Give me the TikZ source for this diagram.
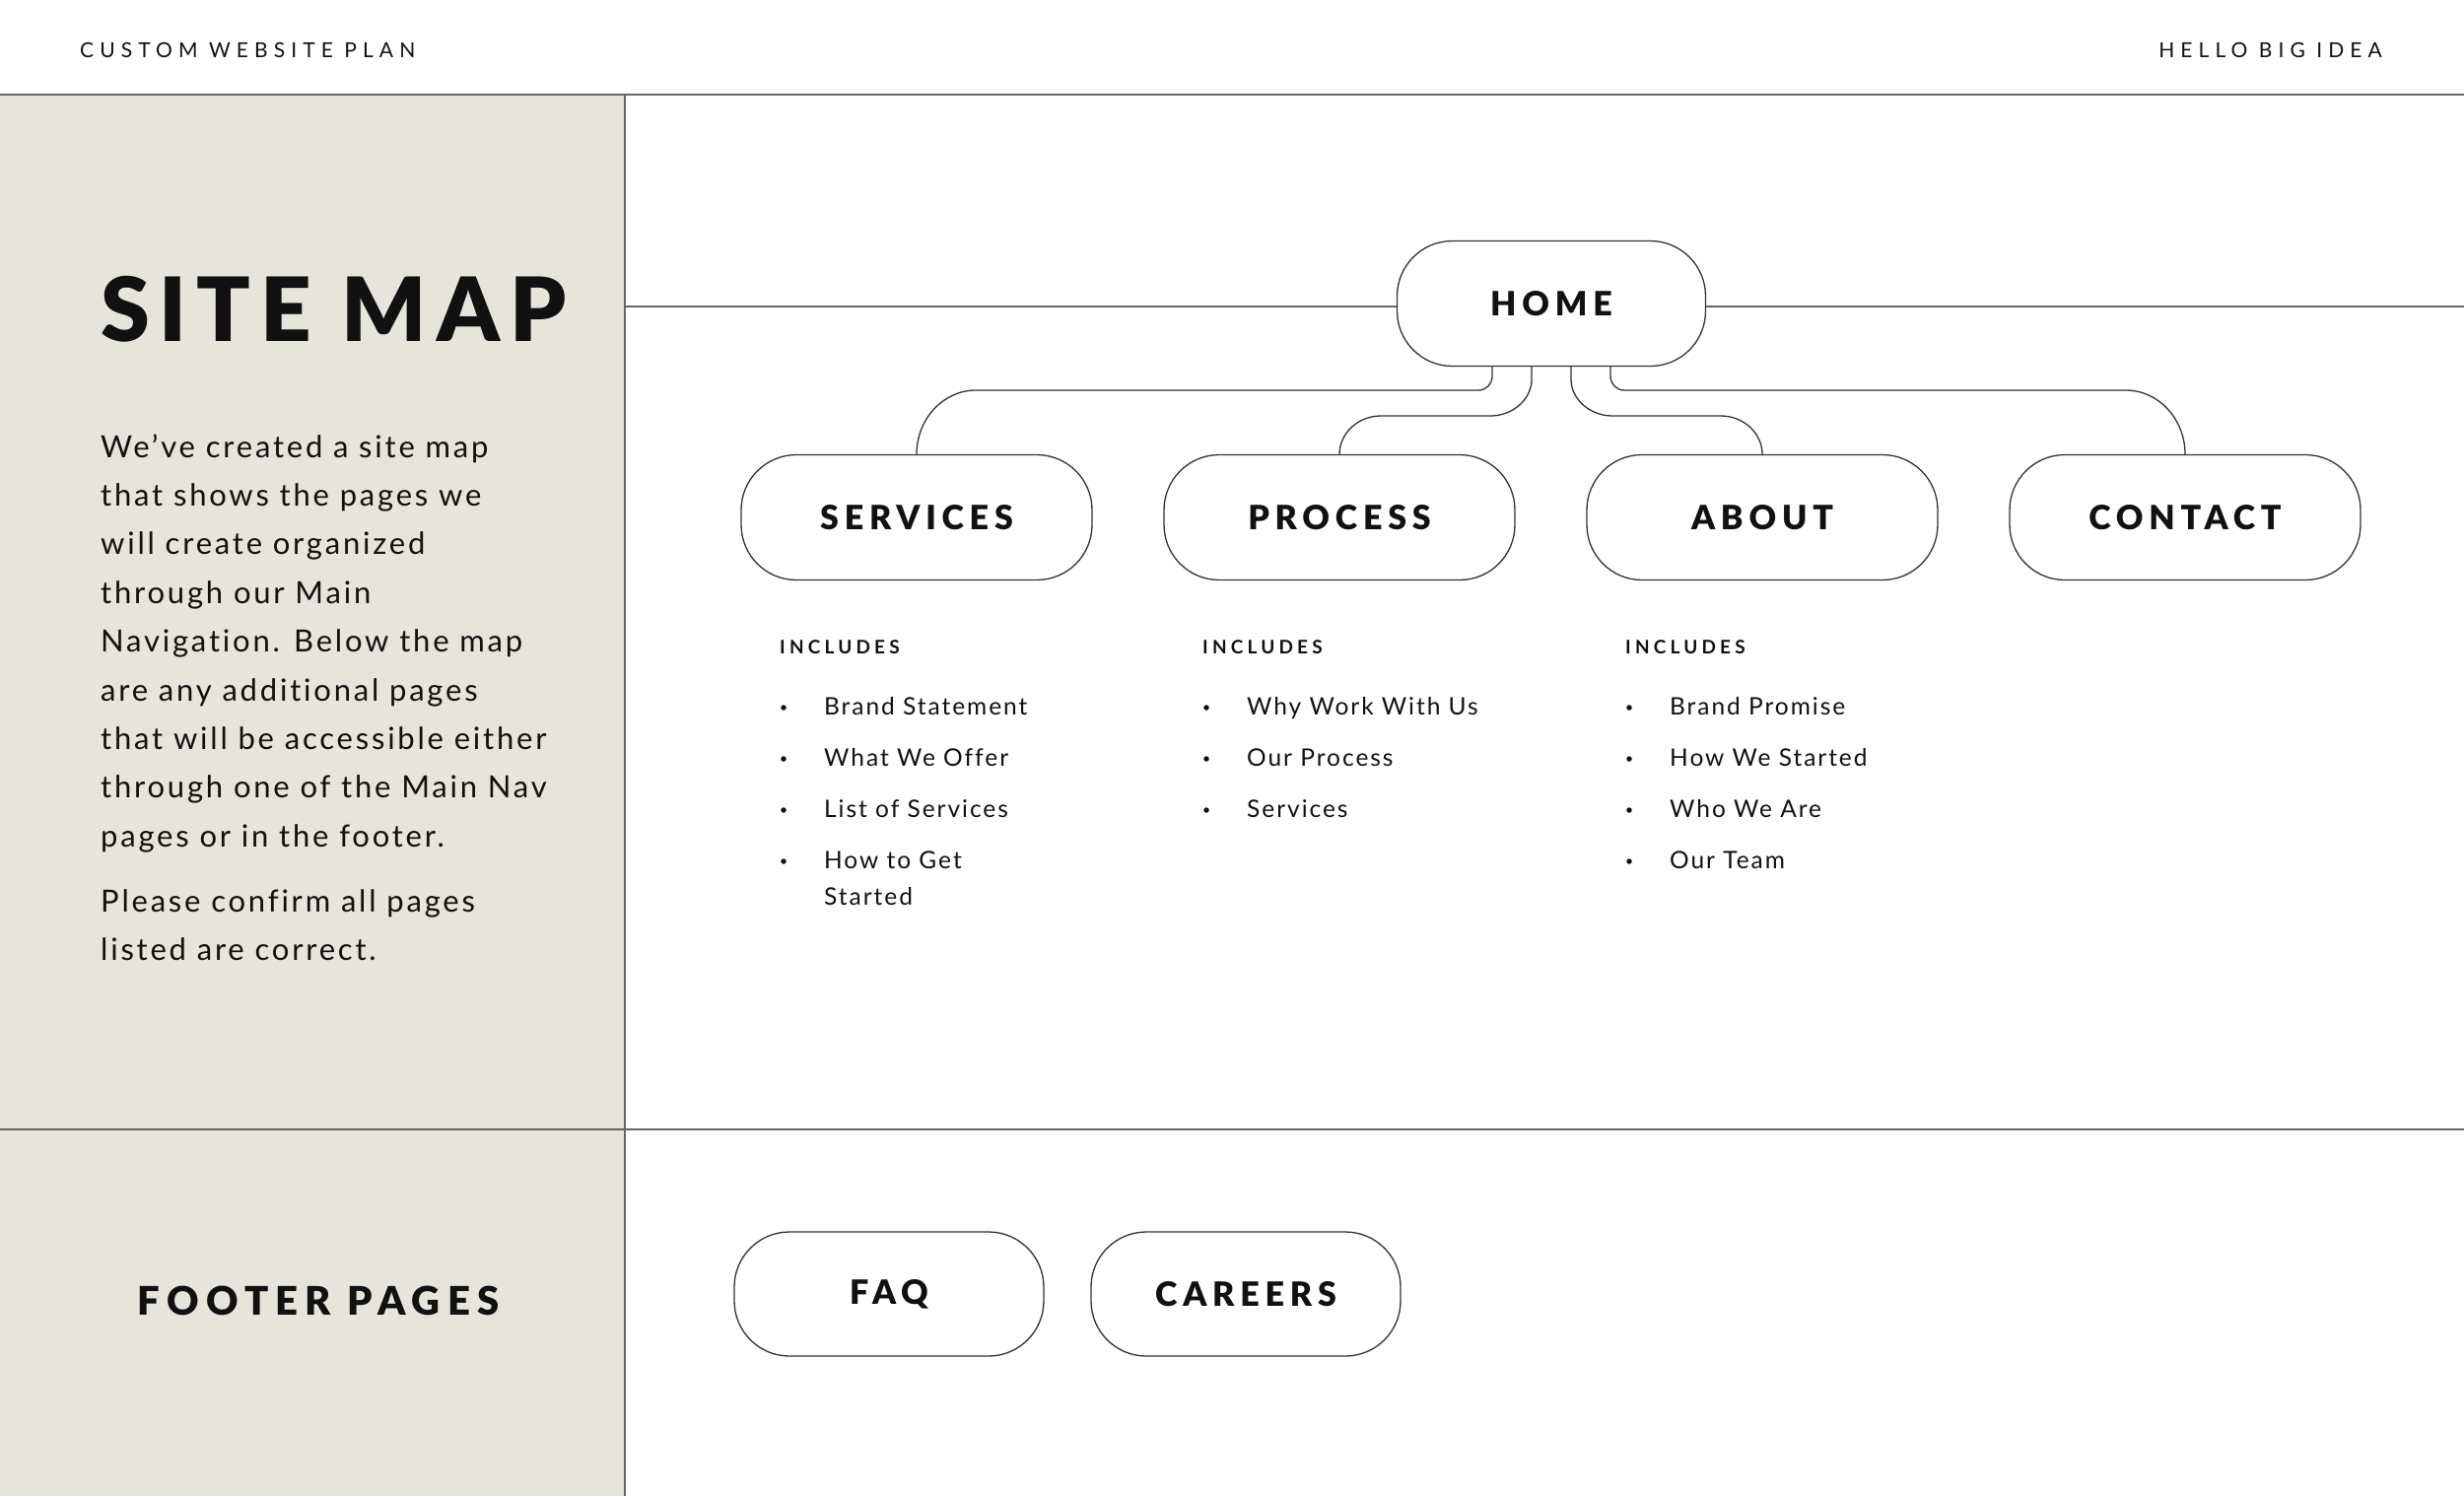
\documentclass[tikz,border=0pt]{standalone}
\usepackage{fontspec}
\setmainfont{Lato}[Ligatures=NoCommon]
\newfontfamily\blackfont{Lato Black}[Ligatures=NoCommon]
\definecolor{panel}{HTML}{E7E4DB}
\definecolor{ink}{HTML}{111111}
\definecolor{rulec}{HTML}{666666}
\newcommand\lsp[1]{\addfontfeature{LetterSpace=#1}}
\tikzset{
  every node/.style={inner sep=0pt, text=ink},
  navbox/.style={draw=black!80, line width=1.3pt, fill=white, rounded corners=56pt,
    minimum width=356pt, minimum height=127pt, font=\blackfont\fontsize{34}{40}\selectfont\lsp{17}},
  conn/.style={draw=black!80, line width=1.3pt},
  rulel/.style={draw=rulec, line width=1.6pt},
  hdr/.style={font=\fontsize{21}{24}\selectfont\lsp{29}},
  body/.style={anchor=base west, font=\fontsize{31}{36}\selectfont\lsp{9}},
  inc/.style={anchor=base west, font=\fontsize{19}{22}\selectfont\bfseries\lsp{22}},
  item/.style={anchor=base west, font=\fontsize{24.5}{30}\selectfont\lsp{8}},
  dot/.style={circle, fill=ink, minimum size=5.5pt},
}
\begin{document}
\begin{tikzpicture}[x=1pt,y=-1pt]
\useasboundingbox (0,0) rectangle (2500,1518);
\fill[panel] (0,96) rectangle (634,1518);
\draw[rulel] (0,96) -- (2500,96);
\draw[rulel] (634,96) -- (634,1518);
\draw[rulel] (0,1146) -- (2500,1146);

% header
\node[hdr, anchor=west] (hdrl) at (81,51) {CUSTOM WEBSITE PLAN};
\node[hdr, anchor=east] (hdrr) at (2417,51) {HELLO BIG IDEA};

% left panel
\node[anchor=base west, font=\blackfont\fontsize{90}{100}\selectfont\lsp{11}] (title) at (102,346) {SITE MAP};
\node[body] (b1) at (102,464) {We’ve created a site map};
\node[body] (b2) at (102,513.4) {that shows the pages we};
\node[body] (b3) at (102,562.8) {will create organized};
\node[body] (b4) at (102,612.2) {through our Main};
\node[body] (b5) at (102,661.6) {Navigation. Below the map};
\node[body] (b6) at (102,711) {are any additional pages};
\node[body] (b7) at (102,760.4) {that will be accessible either};
\node[body] (b8) at (102,809.8) {through one of the Main Nav};
\node[body] (b9) at (102,859.2) {pages or in the footer.};
\node[body] (b10) at (102,925) {Please confirm all pages};
\node[body] (b11) at (102,974.4) {listed are correct.};
\node[anchor=base, font=\blackfont\fontsize{40}{46}\selectfont\lsp{18}] (footer) at (323,1334) {FOOTER PAGES};

% main nav
\coordinate (hl) at (634,311);
\coordinate (hr) at (2500,311);
\node[navbox, minimum width=313pt] (home) at (1574,308) {HOME};
\draw[rulel, line width=1.3pt] (hl) -- (hl -| home.west);
\draw[rulel, line width=1.3pt] (hr -| home.east) -- (hr);
\node[navbox] (services) at (930,525) {SERVICES};
\node[navbox] (process) at (1359,525) {PROCESS};
\node[navbox] (about) at (1788,525) {ABOUT};
\node[navbox] (contact) at (2217,525) {CONTACT};

\draw[conn] ([xshift=-60pt]home.south) -- (1514,382) .. controls (1514,389.7) and (1507.7,396) .. (1500,396)
  -- (990,396) .. controls (956.9,396) and (930,425.3) .. (services.north);
\draw[conn] ([xshift=-20pt]home.south) -- (1554,385) .. controls (1554,405) and (1535,422) .. (1512,422)
  -- (1401,422) .. controls (1377.8,422) and (1359,439.7) .. (process.north);
\draw[conn] ([xshift=20pt]home.south) -- (1594,385) .. controls (1594,405) and (1613,422) .. (1636,422)
  -- (1746,422) .. controls (1769.2,422) and (1788,439.7) .. (about.north);
\draw[conn] ([xshift=60pt]home.south) -- (1634,382) .. controls (1634,389.7) and (1640.3,396) .. (1648,396)
  -- (2157,396) .. controls (2190.1,396) and (2217,425.3) .. (contact.north);

% includes lists
\node[inc] (inc1) at (791,663) {INCLUDES};
\node[inc] (inc2) at (1220,663) {INCLUDES};
\node[inc] (inc3) at (1649,663) {INCLUDES};

\node[dot] (d11) at (795,718) {}; \node[item] (i11) at (836,725) {Brand Statement};
\node[dot] (d12) at (795,770) {}; \node[item] (i12) at (836,777) {What We Offer};
\node[dot] (d13) at (795,822) {}; \node[item] (i13) at (836,829) {List of Services};
\node[dot] (d14) at (795,874) {}; \node[item] (i14) at (836,881) {How to Get};
\node[item] (i15) at (836,918) {Started};

\node[dot] (d21) at (1224,718) {}; \node[item] (i21) at (1265,725) {Why Work With Us};
\node[dot] (d22) at (1224,770) {}; \node[item] (i22) at (1265,777) {Our Process};
\node[dot] (d23) at (1224,822) {}; \node[item] (i23) at (1265,829) {Services};

\node[dot] (d31) at (1653,718) {}; \node[item] (i31) at (1694,725) {Brand Promise};
\node[dot] (d32) at (1653,770) {}; \node[item] (i32) at (1694,777) {How We Started};
\node[dot] (d33) at (1653,822) {}; \node[item] (i33) at (1694,829) {Who We Are};
\node[dot] (d34) at (1653,874) {}; \node[item] (i34) at (1694,881) {Our Team};

% footer pages
\node[navbox, minimum width=314pt, minimum height=126pt] (faq) at (902,1313) {FAQ};
\node[navbox, minimum width=314pt, minimum height=126pt] (careers) at (1264,1313) {CAREERS};
\end{tikzpicture}
\end{document}
